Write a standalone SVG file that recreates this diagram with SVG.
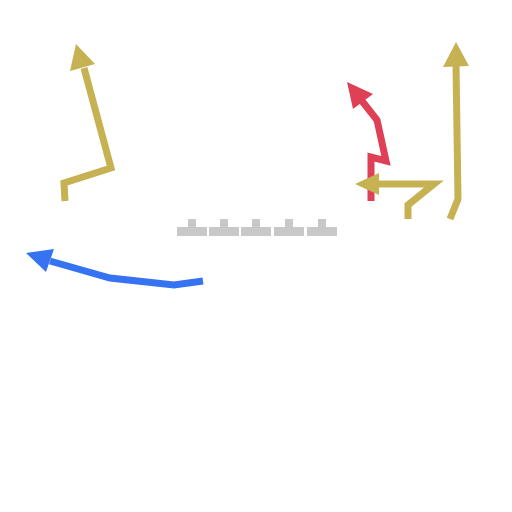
<svg xmlns="http://www.w3.org/2000/svg" width="512" height="512" viewBox="0 0 512 512">
<style>
.r{fill:none;stroke-width:7;stroke-linejoin:miter;stroke-linecap:butt}
.g{stroke:#c6b153}.gf{fill:#c6b153}
.rd{stroke:#df4055}.rf{fill:#df4055}
.b{stroke:#3573f2}.bf{fill:#3573f2}
.ol{fill:#c8c8c8}
</style>
<rect width="512" height="512" fill="#ffffff"/>
<g id="line">
<g id="ol1"><rect class="ol" x="177" y="227" width="30" height="9"/><rect class="ol" x="188" y="219" width="8" height="9"/></g>
<g id="ol2"><rect class="ol" x="209" y="227" width="30" height="9"/><rect class="ol" x="220" y="219" width="8" height="9"/></g>
<g id="ol3"><rect class="ol" x="241" y="227" width="30" height="9"/><rect class="ol" x="252" y="219" width="8" height="9"/></g>
<g id="ol4"><rect class="ol" x="274" y="227" width="30" height="9"/><rect class="ol" x="285" y="219" width="8" height="9"/></g>
<g id="ol5"><rect class="ol" x="307" y="227" width="30" height="9"/><rect class="ol" x="318" y="219" width="8" height="9"/></g>
</g>
<g id="routes">
<polyline class="r g" points="65,201 64,183 111,168 84,68"/>
<polygon class="gf" points="76,44 70,71 95,64"/>
<polyline class="r rd" points="371,201 371,157 386,161 377,120 362,101"/>
<polygon class="rf" points="347,82 353,109 373,94"/>
<polyline class="r g" points="408,219 408,205 434,184 377,184"/>
<polygon class="gf" points="355,184 379,173 379,195"/>
<polyline class="r g" points="450,219 458,199 456,64"/>
<polygon class="gf" points="456,42 443,67 469,66"/>
<polyline class="r b" points="203,281 174,285 110,278 50,261"/>
<polygon class="bf" points="26,253 54,249 46,272"/>
</g>
</svg>
